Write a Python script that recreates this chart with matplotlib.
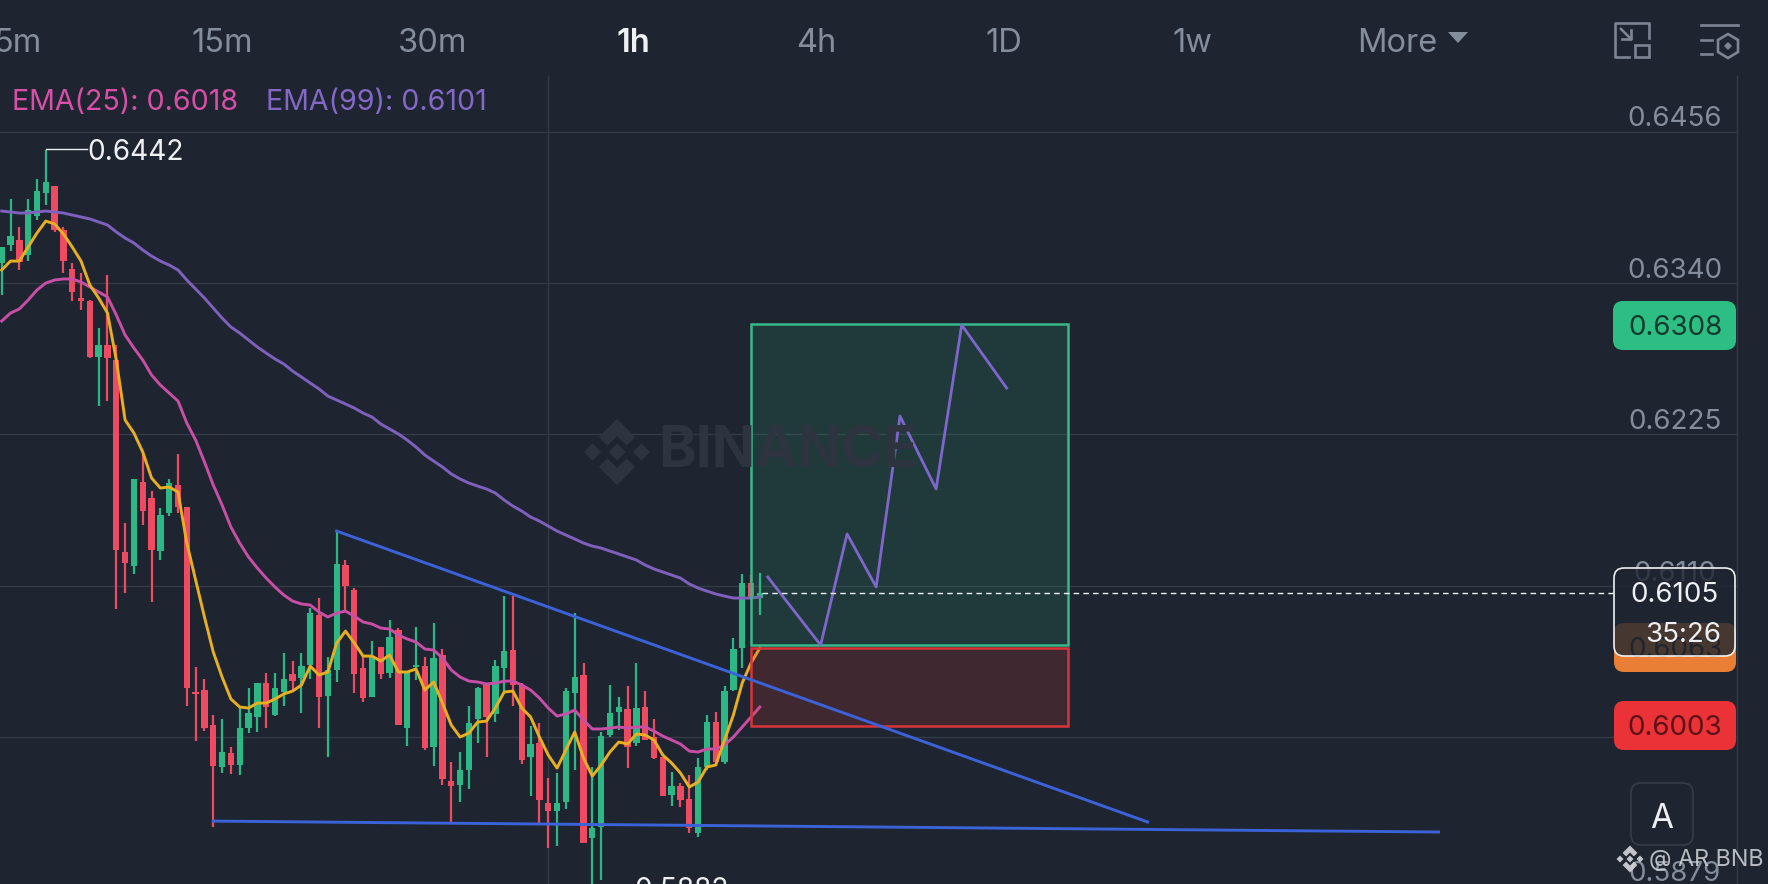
import matplotlib
matplotlib.use("Agg")
import matplotlib.pyplot as plt
from matplotlib.patches import FancyBboxPatch, Polygon, Rectangle

plt.rcParams['font.family'] = ['Inter', 'DejaVu Sans']

BG = '#1E2530'
GRID = '#343A45'
GREEN = '#2DB784'
RED = '#EE4B62'
GREY = '#848D9B'
WHITE = '#EEF0F3'

# candles, oldest first
opens = [.63564, .63701, .63739, .63625, .63921, .64096, .64149, .63815, .63519, .63298,
         .63275, .62850, .62941, .62827, .61368, .61261, .61900, .61778, .61375, .61664,
         .61877, .61710, .60304, .60319, .60053, .59734, .59840, .59749, .60030, .60114,
         .60372, .60129, .60304, .60441, .60410, .60509, .60889, .60273, .60471, .61269,
         .61079, .60486, .60266, .60646, .60448, .60775, .60030, .60494, .60501, .59886,
         .60585, .59627, .59597, .59711, .60099, .60365, .60137, .60486, .60623, .60357,
         .59810, .59916, .59460, .59399, .59468, .60296, .60433, .59194, .59278, .59977,
         .60152, .60175, .59916, .60190, .59962, .59810, .59521, .59589, .59491, .59232,
         .59734, .60076, .59772, .60319, .60638, .61132, .61018]
highs = [.63686, .64051, .63838, .64051, .64203, .64420, .64149, .63838, .63564, .63488,
         .63283, .63070, .63473, .62941, .61588, .61923, .62128, .61831, .61702, .61923,
         .62113, .61710, .60494, .60403, .60129, .60099, .59886, .60190, .60334, .60372,
         .60448, .60448, .60600, .60539, .60600, .60942, .61018, .60570, .61520, .61307,
         .61094, .60570, .60691, .60646, .60851, .60790, .60456, .60798, .60570, .60828,
         .60631, .59772, .59848, .60197, .60342, .60372, .60547, .61033, .61033, .60372,
         .60045, .60068, .59650, .59688, .60334, .60904, .60524, .59734, .60000, .60357,
         .60266, .60349, .60524, .60311, .60099, .59810, .59696, .59612, .59673, .59802,
         .60129, .60152, .60349, .60714, .61201, .61193, .61208]
lows = [.63321, .63655, .63511, .63579, .63891, .64005, .63800, .63488, .63275, .63207,
        .62842, .62477, .62515, .60935, .61056, .61201, .61573, .60988, .61307, .61641,
        .61664, .60197, .59931, .60007, .59278, .59688, .59681, .59673, .59992, .60000,
        .60030, .60121, .60197, .60319, .60144, .60403, .60030, .59810, .60380, .60927,
        .60296, .60228, .60266, .60403, .60410, .60053, .59893, .60395, .59863, .59741,
        .59597, .59316, .59468, .59567, .59916, .59810, .60076, .60304, .60197, .59757,
        .59513, .59308, .59118, .59133, .59415, .59711, .59156, .58820, .58875, .59962,
        .60015, .59726, .59893, .59939, .59795, .59513, .59437, .59430, .59232, .59202,
        .59711, .59749, .59757, .60311, .60486, .61003, .60889]
closes = [.63686, .63769, .63572, .63967, .64111, .64180, .63815, .63579, .63344, .63275,
          .62850, .62941, .62842, .61383, .61284, .61923, .61679, .61383, .61649, .61892,
          .61710, .60334, .60289, .60030, .59741, .59848, .59749, .60030, .60144, .60372,
          .60190, .60334, .60403, .60387, .60501, .60904, .60266, .60471, .61277, .61109,
          .60441, .60258, .60570, .60441, .60722, .60053, .60456, .60509, .59878, .60562,
          .59643, .59589, .59711, .60068, .60334, .60114, .60501, .60615, .60357, .59787,
          .59909, .59483, .59399, .59460, .60311, .60418, .59156, .59270, .59969, .60144,
          .60190, .59886, .60182, .59939, .59802, .59513, .59589, .59483, .59270, .59734,
          .60076, .59772, .60311, .60631, .61132, .61018, .61056]

ema7 = [.63511, .63579, .63579, .63686, .63792, .63883, .63861, .63785, .63686, .63579,
        .63397, .63298, .63184, .62827, .62371, .62272, .62128, .61930, .61854, .61862,
        .61824, .61436, .61155, .60874, .60608, .60418, .60251, .60190, .60182, .60220,
        .60220, .60251, .60289, .60311, .60357, .60501, .60433, .60456, .60676, .60767,
        .60676, .60577, .60577, .60539, .60585, .60456, .60456, .60479, .60319, .60380,
        .60220, .60053, .59962, .59992, .60076, .60083, .60182, .60304, .60311, .60182,
        .60114, .59962, .59825, .59726, .59863, .60000, .59802, .59665, .59749, .59848,
        .59924, .59909, .59985, .59977, .59939, .59825, .59764, .59688, .59582, .59620,
        .59734, .59749, .59939, .60129, .60372, .60524, .60638]
ema25 = [.63123, .63184, .63215, .63283, .63359, .63412, .63435, .63443, .63443, .63420,
         .63382, .63344, .63306, .63169, .63017, .62918, .62827, .62713, .62637, .62576,
         .62515, .62348, .62219, .62052, .61877, .61725, .61558, .61436, .61330, .61246,
         .61170, .61102, .61041, .60995, .60973, .60965, .60912, .60874, .60904, .60919,
         .60881, .60836, .60821, .60790, .60783, .60737, .60707, .60684, .60631, .60623,
         .60562, .60471, .60418, .60387, .60380, .60365, .60372, .60387, .60387, .60357,
         .60319, .60258, .60182, .60121, .60137, .60167, .60091, .60023, .60023, .60030,
         .60038, .60030, .60038, .60038, .60007, .59969, .59939, .59909, .59855, .59848,
         .59871, .59871, .59901, .59962, .60038, .60114, .60190]
ema99 = [.63959, .63952, .63944, .63944, .63952, .63959, .63952, .63944, .63929, .63914,
         .63899, .63876, .63853, .63800, .63754, .63716, .63663, .63617, .63579, .63549,
         .63511, .63435, .63367, .63298, .63222, .63146, .63078, .63032, .62979, .62926,
         .62880, .62835, .62797, .62743, .62698, .62652, .62607, .62553, .62523, .62493,
         .62462, .62424, .62394, .62341, .62303, .62265, .62219, .62166, .62105, .62059,
         .62014, .61961, .61923, .61892, .61869, .61847, .61816, .61763, .61717, .61679,
         .61634, .61603, .61565, .61527, .61497, .61467, .61436, .61413, .61398, .61375,
         .61353, .61330, .61307, .61269, .61239, .61216, .61193, .61170, .61125, .61094,
         .61071, .61049, .61033, .61018, .61018, .61018, .61026]

# drawn on the chart
wedge_top_x = [38, 130]
wedge_top_y = [.61527, .59316]
wedge_low_x = [24, 163]
wedge_low_y = [.59323, .59240]
path_x = [86.9, 92.9, 95.9, 99.2, 101.9, 106, 108.9, 114]
path_y = [.61178, .60661, .61505, .61102, .62401, .61847, .63093, .62614]
box_x = [85, 121]
target_price = .6310
reward_floor = .60665
risk_top = .60635
stop_price = .60045
last_price = .61055

grid_prices = [.6456, .63412, .62265, .61109, .59962]
axis_labels = ['0.6456', '0.6340', '0.6225', '0.6110', '0.5879']
axis_label_y = [119, 271, 422, 574, 874]
tabs = ['5m', '15m', '30m', '1h', '4h', '1D', '1w']
tab_x = [18, 222, 433, 633, 816, 1004, 1192]

fig = plt.figure(figsize=(17.68, 8.84), dpi=100, facecolor=BG)
ax = fig.add_axes([0, 0, 1, 1], facecolor=BG)
ax.set_xlim(-0.193, 200.37)
ax.set_ylim(.58845, .65563)
ax.axis('off')

# grid
ax.hlines(grid_prices, -1, 196.8, color=GRID, lw=1, zorder=1)
ax.vlines(62, .58845, .64993, color=GRID, lw=1, zorder=1)
ax.vlines(196.8, .58845, .64993, color=GRID, lw=1, zorder=1)

# candles
for i in range(len(opens)):
    col = GREEN if closes[i] >= opens[i] and i != 85 else RED
    ax.vlines(i, lows[i], highs[i], color=col, lw=1.6, zorder=3)
    ax.bar(i, abs(closes[i] - opens[i]), bottom=min(opens[i], closes[i]), width=0.72, color=col, zorder=3)

ax.plot(range(len(ema99)), ema99, color='#7F60BE', lw=2.1, zorder=4)
ax.plot(range(len(ema25)), ema25, color='#C84EA6', lw=2.1, zorder=4)
ax.plot(range(len(ema7)), ema7, color='#E8B020', lw=2.1, zorder=4)

# long position tool
box_w = box_x[1] - box_x[0]
ax.add_patch(Rectangle((box_x[0], reward_floor), box_w, target_price - reward_floor,
                       facecolor=GREEN, alpha=0.14, zorder=5))
ax.add_patch(Rectangle((box_x[0], reward_floor), box_w, target_price - reward_floor,
                       fill=False, edgecolor='#38B98A', lw=1.8, zorder=5))
ax.add_patch(Rectangle((box_x[0], stop_price), box_w, risk_top - stop_price,
                       facecolor='#E03A3A', alpha=0.18, zorder=5))
ax.add_patch(Rectangle((box_x[0], stop_price), box_w, risk_top - stop_price,
                       fill=False, edgecolor='#D8343A', lw=1.8, zorder=5))

ax.plot(wedge_top_x, wedge_top_y, color='#3B62D8', lw=2.1, zorder=6)
ax.plot(wedge_low_x, wedge_low_y, color='#3B62D8', lw=2.1, zorder=6)
ax.plot(path_x, path_y, color='#7F66CC', lw=2.0, zorder=6)
ax.hlines(last_price, 86.3, 183, color=WHITE, lw=1, linestyles=(0, (4, 3)), zorder=6)

# everything else is placed in pixels
ui = fig.add_axes([0, 0, 1, 1], facecolor='none')
ui.set_xlim(0, 1768)
ui.set_ylim(884, 0)
ui.axis('off')


def logo(cx, cy, r, color, alpha=1.0):
    shapes = [
        [(0, -.26), (.26, 0), (0, .26), (-.26, 0)],
        [(-.74, -.26), (-.48, 0), (-.74, .26), (-1, 0)],
        [(.74, -.26), (1, 0), (.74, .26), (.48, 0)],
        [(0, -1), (.55, -.45), (.29, -.19), (0, -.48), (-.29, -.19), (-.55, -.45)],
        [(0, 1), (.55, .45), (.29, .19), (0, .48), (-.29, .19), (-.55, .45)],
    ]
    for s in shapes:
        ui.add_patch(Polygon([(cx + px * r, cy + py * r) for px, py in s], closed=True,
                             facecolor=color, edgecolor='none', alpha=alpha, zorder=2))


def tag(x0, y0, x1, y1, face, edge='none', alpha=1.0, z=3):
    ui.add_patch(FancyBboxPatch((x0, y0), x1 - x0, y1 - y0, boxstyle='round,pad=0,rounding_size=10',
                                facecolor=face, edgecolor=edge, alpha=alpha, lw=1.2, zorder=z))


# watermark
logo(617, 452, 33, '#2D3440')
ui.text(788, 453, 'BINANCE', color='#2D3440', fontsize=41, fontweight='bold', ha='center', va='center', zorder=2)

# tabs
for name, x in zip(tabs, tab_x):
    active = name == '1h'
    ui.text(x, 44, name, color=WHITE if active else GREY, fontsize=23.5, ha='center', va='center',
            fontweight='semibold' if active else 'normal')
ui.text(1397, 44, 'More', color=GREY, fontsize=23.5, ha='center', va='center')
ui.add_patch(Polygon([(1448, 32), (1468, 32), (1458, 43)], closed=True, facecolor=GREY, edgecolor='none'))

# top right icons
ICON = '#7D8594'
ui.plot([1629, 1615, 1615, 1649, 1649], [57, 57, 23, 23, 38], color=ICON, lw=1.9)
ui.add_patch(Rectangle((1635, 45), 14, 12, fill=False, edgecolor=ICON, lw=1.9))
ui.plot([1621, 1631], [29, 39], color=ICON, lw=1.9)
ui.plot([1622, 1631, 1631], [39, 39, 30], color=ICON, lw=1.9)
ui.plot([1701, 1738], [25, 25], color=ICON, lw=1.9)
ui.plot([1701, 1712], [40, 40], color=ICON, lw=1.9)
ui.plot([1701, 1712], [54, 54], color=ICON, lw=1.9)
ui.add_patch(Polygon([(1728, 34), (1738, 40), (1738, 52), (1728, 58), (1718, 52), (1718, 40)], closed=True,
                     fill=False, edgecolor=ICON, lw=1.9))
ui.add_patch(Polygon([(1728, 42), (1732, 46), (1728, 50), (1724, 46)], closed=True, facecolor=ICON, edgecolor='none'))

# legend
ui.text(12, 102, 'EMA(25): 0.6018', color='#D94FA8', fontsize=20.6, ha='left', va='center')
ui.text(266, 102, 'EMA(99): 0.6101', color='#8468C8', fontsize=20.6, ha='left', va='center')

# extremes
ui.plot([46, 87], [149, 149], color=WHITE, lw=1)
ui.text(87, 152, '0.6442', color=WHITE, fontsize=20.2, ha='left', va='center')
ui.text(634, 891, '0.5882', color=WHITE, fontsize=20.2, ha='left', va='center')

# price axis
for lab, y in zip(axis_labels, axis_label_y):
    ui.text(1675, y, lab, color=GREY, fontsize=20, ha='center', va='center', zorder=1)

tag(1613, 301, 1736, 350, '#2DBE84')
ui.text(1675, 328, '0.6308', color='#12392E', fontsize=20, ha='center', va='center', zorder=4)
tag(1614, 623, 1736, 672, '#E87F35')
ui.text(1675, 650, '0.6063', color='#2A2420', fontsize=20, ha='center', va='center', zorder=4)
tag(1614, 701, 1736, 750, '#EB3237')
ui.text(1675, 728, '0.6003', color='#5A1218', fontsize=20, ha='center', va='center', zorder=4)

tag(1614, 568, 1735, 656, BG, alpha=0.8, z=5)
tag(1614, 568, 1735, 656, 'none', edge=WHITE, z=6)
ui.text(1675, 595, '0.6105', color=WHITE, fontsize=20, ha='center', va='center', zorder=7)
ui.text(1721, 635, '35:26', color=WHITE, fontsize=20, ha='right', va='center', zorder=7)

# corner button and credit
tag(1631, 783, 1693, 845, 'none', edge='#363D49')
ui.text(1662, 819, 'A', color=WHITE, fontsize=24, ha='center', va='center')
logo(1630, 859, 13.5, '#D4D7DC', alpha=0.9)
ui.text(1649, 860, '@ AR BNB', color='#D4D7DC', alpha=0.85, fontsize=16.8, ha='left', va='center', zorder=4)

fig.savefig('out.png', dpi=100, facecolor=BG)
